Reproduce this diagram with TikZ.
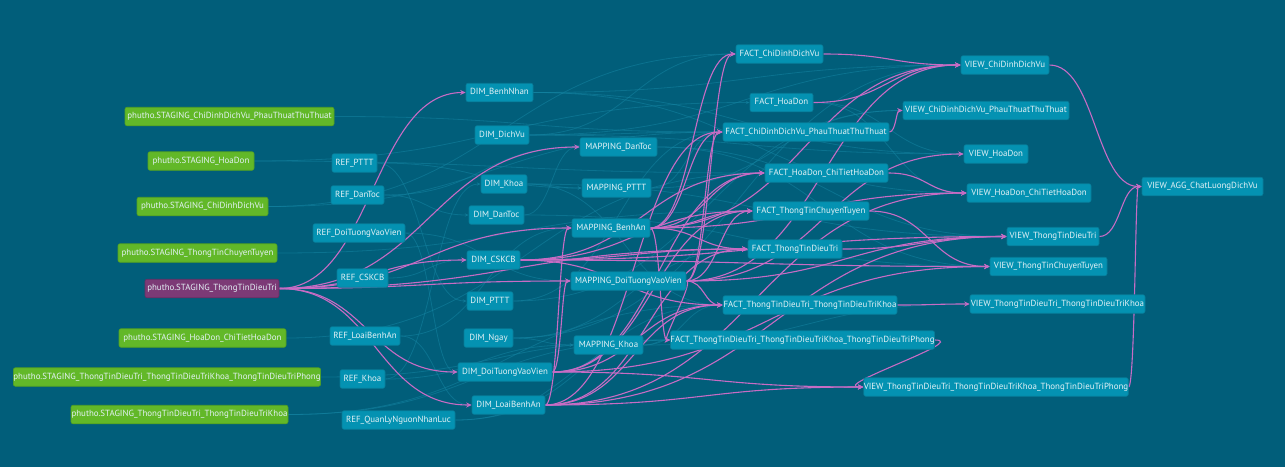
\documentclass[tikz,border=0pt]{standalone}
\usepackage{fontspec}
\setmainfont{PT Sans}
\usetikzlibrary{arrows.meta,calc}
\pgfdeclarelayer{bgl}
\pgfdeclarelayer{edges}
\pgfsetlayers{bgl,edges,main}
\definecolor{bg}{RGB}{1,94,122}
\definecolor{mdl}{RGB}{4,146,178}
\definecolor{mdlb}{RGB}{8,124,152}
\definecolor{src}{RGB}{98,184,40}
\definecolor{srcb}{RGB}{82,160,34}
\definecolor{sel}{RGB}{124,58,118}
\definecolor{selb}{RGB}{104,46,100}
\definecolor{hl}{RGB}{199,108,196}
\definecolor{faint}{RGB}{20,132,162}
\definecolor{txt}{RGB}{228,242,246}
\tikzset{
  box/.style={rounded corners=2pt, minimum height=18.5pt, inner sep=0pt, text=txt, font=\fontsize{8.9}{10}\selectfont},
  mdl/.style={box, fill=mdl, draw=mdlb, line width=0.6pt},
  src/.style={box, fill=src, draw=srcb, line width=0.6pt},
  sel/.style={box, fill=sel, draw=selb, line width=0.6pt},
  lin/.style={to path={let \p1=(\tikztostart),\p2=(\tikztotarget),\n1={max(abs(\x2-\x1)*0.5,5pt)} in .. controls +(\n1,0pt) and +(-\n1,0pt) .. (\tikztotarget) \tikztonodes}},
  mg/.style={lin, draw=hl, line width=1.1pt, -{Stealth[length=5.5pt,width=5pt]}},
  fe/.style={lin, draw=faint, opacity=0.55, line width=0.8pt, -{Stealth[length=4pt,width=3.5pt]}},
}
\begin{document}
\begin{tikzpicture}[x=1pt,y=-1pt]
\begin{pgfonlayer}{bgl}
\fill[bg] (0,0) rectangle (1285,467);
\end{pgfonlayer}
\useasboundingbox (0,0) rectangle (1285,467);
% sources
\node[src,minimum width=209pt] (stgPTTT) at (229.5,116.5) {phutho.STAGING\_ChiDinhDichVu\_PhauThuatThuThuat};
\node[src,minimum width=106pt] (stgHoaDon) at (201,161) {phutho.STAGING\_HoaDon};
\node[src,minimum width=131pt] (stgCDDV) at (202.5,206.5) {phutho.STAGING\_ChiDinhDichVu};
\node[src,minimum width=159pt] (stgTTCT) at (197.5,253) {phutho.STAGING\_ThongTinChuyenTuyen};
\node[sel,minimum width=134pt] (stgTTDT) at (212,288.5) {phutho.STAGING\_ThongTinDieuTri};
\node[src,minimum width=167pt] (stgHDCT) at (202.5,338) {phutho.STAGING\_HoaDon\_ChiTietHoaDon};
\node[src,minimum width=306pt] (stgPhong) at (167,377) {phutho.STAGING\_ThongTinDieuTri\_ThongTinDieuTriKhoa\_ThongTinDieuTriPhong};
\node[src,minimum width=217pt] (stgKhoa) at (179.5,414.5) {phutho.STAGING\_ThongTinDieuTri\_ThongTinDieuTriKhoa};
% refs
\node[mdl,minimum width=45pt] (refPTTT) at (354.5,163) {REF\_PTTT};
\node[mdl,minimum width=53pt] (refDanToc) at (357.5,195) {REF\_DanToc};
\node[mdl,minimum width=92pt] (refDTVV) at (359,233) {REF\_DoiTuongVaoVien};
\node[mdl,minimum width=51pt] (refCSKCB) at (362.5,278) {REF\_CSKCB};
\node[mdl,minimum width=70pt] (refLBA) at (365,336) {REF\_LoaiBenhAn};
\node[mdl,minimum width=45pt] (refKhoa) at (362.5,379) {REF\_Khoa};
\node[mdl,minimum width=113pt] (refQL) at (398.5,420) {REF\_QuanLyNguonNhanLuc};
% dims
\node[mdl,minimum width=67pt] (dimBenhNhan) at (499.5,92.5) {DIM\_BenhNhan};
\node[mdl,minimum width=54pt] (dimDichVu) at (502,135) {DIM\_DichVu};
\node[mdl,minimum width=46pt] (dimKhoa) at (504,184) {DIM\_Khoa};
\node[mdl,minimum width=55pt] (dimDanToc) at (496.5,215) {DIM\_DanToc};
\node[mdl,minimum width=53pt] (dimCSKCB) at (493.5,260) {DIM\_CSKCB};
\node[mdl,minimum width=46pt] (dimPTTT) at (490,301) {DIM\_PTTT};
\node[mdl,minimum width=49pt] (dimNgay) at (488.5,338) {DIM\_Ngay};
\node[mdl,minimum width=94pt] (dimDTVV) at (505,372) {DIM\_DoiTuongVaoVien};
\node[mdl,minimum width=73pt] (dimLBA) at (508.5,405) {DIM\_LoaiBenhAn};
% mappings
\node[mdl,minimum width=77pt] (mapDanToc) at (618.5,147) {MAPPING\_DanToc};
\node[mdl,minimum width=69pt] (mapPTTT) at (616.5,188) {MAPPING\_PTTT};
\node[mdl,minimum width=78pt] (mapBenhAn) at (611,228) {MAPPING\_BenhAn};
\node[mdl,minimum width=115pt] (mapDTVV) at (628.5,281) {MAPPING\_DoiTuongVaoVien};
\node[mdl,minimum width=69pt] (mapKhoa) at (608.5,345) {MAPPING\_Khoa};
% facts
\node[mdl,minimum width=87pt] (factCDDV) at (779.5,54) {FACT\_ChiDinhDichVu};
\node[mdl,minimum width=63pt] (factHoaDon) at (781.5,102.5) {FACT\_HoaDon};
\node[mdl,minimum width=166pt] (factPTTT) at (806,132) {FACT\_ChiDinhDichVu\_PhauThuatThuThuat};
\node[mdl,minimum width=123pt] (factHDCT) at (826.5,173) {FACT\_HoaDon\_ChiTietHoaDon};
\node[mdl,minimum width=116pt] (factTTCT) at (811,211) {FACT\_ThongTinChuyenTuyen};
\node[mdl,minimum width=94pt] (factTTDT) at (795,249) {FACT\_ThongTinDieuTri};
\node[mdl,minimum width=174pt] (factKhoa) at (810,305) {FACT\_ThongTinDieuTri\_ThongTinDieuTriKhoa};
\node[mdl,minimum width=261pt] (factPhong) at (802.5,340) {FACT\_ThongTinDieuTri\_ThongTinDieuTriKhoa\_ThongTinDieuTriPhong};
% views
\node[mdl,minimum width=88pt] (viewCDDV) at (1005,65) {VIEW\_ChiDinhDichVu};
\node[mdl,minimum width=166pt] (viewPTTT) at (986,110.5) {VIEW\_ChiDinhDichVu\_PhauThuatThuThuat};
\node[mdl,minimum width=64pt] (viewHoaDon) at (996,154) {VIEW\_HoaDon};
\node[mdl,minimum width=124pt] (viewHDCT) at (1029,193) {VIEW\_HoaDon\_ChiTietHoaDon};
\node[mdl,minimum width=92pt] (viewTTDT) at (1053,236.5) {VIEW\_ThongTinDieuTri};
\node[mdl,minimum width=117pt] (viewTTCT) at (1048.5,266.5) {VIEW\_ThongTinChuyenTuyen};
\node[mdl,minimum width=175pt] (viewKhoa) at (1057.5,304) {VIEW\_ThongTinDieuTri\_ThongTinDieuTriKhoa};
\node[mdl,minimum width=264pt] (viewPhong) at (996,387) {VIEW\_ThongTinDieuTri\_ThongTinDieuTriKhoa\_ThongTinDieuTriPhong};
\node[mdl,minimum width=121pt] (viewAGG) at (1202.5,186.5) {VIEW\_AGG\_ChatLuongDichVu};
\begin{pgfonlayer}{edges}
% faint lineage
\foreach \a/\b in {stgPTTT/factPTTT, stgHoaDon/factHoaDon, stgHoaDon/factHDCT, stgCDDV/factCDDV, stgCDDV/factPTTT,
  stgTTCT/factTTCT, stgHDCT/factHDCT, stgPhong/factPhong, stgKhoa/factKhoa, stgKhoa/factPhong,
  refPTTT/dimPTTT, refPTTT/mapPTTT, refDanToc/dimDanToc, refDanToc/mapDanToc, refDTVV/dimDTVV, refDTVV/mapDTVV,
  refCSKCB/dimCSKCB, refLBA/dimLBA, refLBA/mapBenhAn, refKhoa/dimKhoa, refKhoa/mapKhoa, refQL/factKhoa, refQL/factPhong,
  dimDichVu/factCDDV, dimDichVu/factPTTT, dimDichVu/viewCDDV, dimDichVu/viewHoaDon,
  dimKhoa/mapPTTT, dimKhoa/factKhoa, dimKhoa/viewTTDT, dimDanToc/mapDanToc, dimDanToc/viewTTCT,
  dimPTTT/factPTTT, dimPTTT/viewPTTT, dimNgay/mapKhoa, dimNgay/factTTDT, dimNgay/viewCDDV,
  dimBenhNhan/viewCDDV, dimBenhNhan/viewHoaDon, dimBenhNhan/viewHDCT,
  mapPTTT/factPTTT, mapPTTT/viewPTTT, mapKhoa/factKhoa, mapKhoa/factPhong, mapKhoa/viewKhoa,
  mapDanToc/viewTTDT, mapDanToc/viewTTCT, factHoaDon/viewHoaDon, factHoaDon/viewHDCT}
  \draw[fe] (\a.east) to (\b.west);
% highlighted lineage
\foreach \a/\b in {stgTTDT/dimBenhNhan, stgTTDT/mapDanToc, stgTTDT/dimCSKCB, stgTTDT/mapBenhAn, stgTTDT/mapDTVV,
  stgTTDT/dimDTVV, stgTTDT/dimLBA, stgTTDT/factTTDT,
  dimLBA/mapBenhAn, dimDTVV/mapDTVV,
  dimCSKCB/factTTDT, dimCSKCB/factTTCT, dimCSKCB/factKhoa, dimCSKCB/viewTTDT, dimCSKCB/viewTTCT, dimCSKCB/factHDCT,
  mapBenhAn/factCDDV, mapBenhAn/factPTTT, mapBenhAn/factHDCT, mapBenhAn/factTTCT, mapBenhAn/factTTDT, mapBenhAn/factPhong,
  mapBenhAn/viewCDDV, mapBenhAn/viewHDCT,
  mapDTVV/factCDDV, mapDTVV/factPTTT, mapDTVV/factTTCT, mapDTVV/factKhoa, mapDTVV/factPhong, mapDTVV/viewCDDV,
  mapDTVV/viewTTDT, mapDTVV/viewHoaDon,
  dimDTVV/factHDCT, dimDTVV/factTTCT, dimDTVV/factKhoa, dimDTVV/viewPhong, dimDTVV/viewTTCT,
  dimLBA/factPTTT, dimLBA/factTTDT, dimLBA/factKhoa, dimLBA/viewPhong, dimLBA/viewTTDT, dimLBA/viewHDCT,
  factCDDV/viewCDDV, factHoaDon/viewCDDV, factPTTT/viewPTTT, factHDCT/viewHDCT, factTTCT/viewTTCT, factTTDT/viewTTDT,
  factKhoa/viewKhoa, factPhong/viewPhong, viewCDDV/viewAGG, viewTTDT/viewAGG, viewPhong/viewAGG}
  \draw[mg] (\a.east) to (\b.west);
\end{pgfonlayer}
\end{tikzpicture}
\end{document}
